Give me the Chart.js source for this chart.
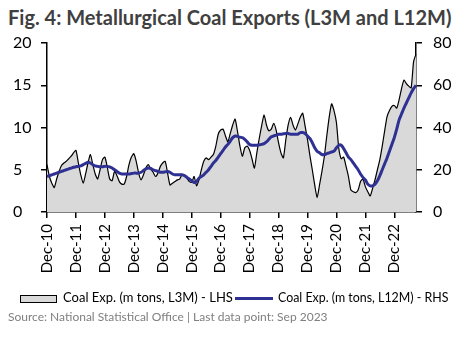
<!DOCTYPE html>
<html>
<head>
<meta charset="utf-8">
<script src="https://cdn.jsdelivr.net/npm/chart.js@4/dist/chart.umd.min.js"></script>
<style>
  html, body { margin: 0; padding: 0; background: #fff; }
  body { width: 474px; height: 337px; position: relative; overflow: hidden; font-family: Lato, "Open Sans", sans-serif; }
  #chart { position: absolute; left: 0; top: 0; }
  .title { position: absolute; left: 8px; top: 7px; font-size: 20px; font-weight: bold; color: #404040; line-height: 1; white-space: nowrap; }
  .legend { position: absolute; top: 291px; left: 20px; font-size: 13px; color: #000; line-height: 1; white-space: nowrap; }
  .legend span { position: absolute; top: 0; }
  .box { position: absolute; left: 0; top: 4px; width: 35px; height: 6px; background: #d9d9d9; border: 1.5px solid #000; }
  .line { position: absolute; left: 215px; top: 6px; width: 38px; height: 3px; background: #2E3192; }
  .source { position: absolute; left: 8px; top: 311px; font-size: 12px; color: #7f7f7f; line-height: 1; white-space: nowrap; }
</style>
</head>
<body>
<div class="title">Fig. 4: Metallurgical Coal Exports (L3M and L12M)</div>
<canvas id="chart" width="474" height="337"></canvas>
<div class="legend">
  <div class="box"></div><span style="left:43px">Coal Exp. (m tons, L3M) - LHS</span>
  <div class="line"></div><span style="left:258px; font-size:12.4px; top:0.5px">Coal Exp. (m tons, L12M) - RHS</span>
</div>
<div class="source">Source: National Statistical Office | Last data point: Sep 2023</div>
<script>
// Monthly series starting Dec-2010, last point Sep-2023
const startYear = 2010;
const startMonth = 11; // December (0-based)

// Exports over the last 3 months, m tons (left axis)
const l3m = [
  5.6,
  4.2, 3.4, 2.9, 3.9, 4.8, 5.5, 5.8, 6.0, 6.3, 6.6, 7.0, 7.3,
  5.8, 4.4, 3.4, 4.5, 5.8, 6.8, 5.6, 4.5, 3.9, 5.0, 6.2, 6.5,
  5.3, 3.9, 3.7, 4.8, 4.3, 3.6, 3.3, 3.3, 4.2, 5.6, 6.5, 6.9,
  6.0, 4.6, 3.8, 4.4, 5.2, 5.6, 5.1, 4.7, 4.2, 4.6, 5.4, 5.8,
  6.0, 4.6, 3.2, 3.4, 3.6, 3.8, 3.9, 4.4, 4.3, 4.0, 3.6, 3.5,
  4.2, 3.1, 3.8, 5.0, 6.0, 6.4, 6.2, 6.5, 6.8, 7.8, 9.2, 9.7,
  9.8, 9.0, 8.3, 9.3, 10.3, 11.0, 9.5, 7.8, 6.6, 7.6, 7.8, 7.3,
  6.3, 5.2, 7.0, 8.7, 10.2, 11.5, 10.3, 9.6, 9.8, 10.5, 9.7, 8.2,
  7.0, 6.4, 8.5, 10.3, 11.2, 10.3, 9.7, 10.4, 11.2, 11.7, 10.2, 8.6,
  6.7, 5.0, 3.2, 1.7, 3.2, 4.8, 6.6, 9.0, 11.2, 12.8, 12.0, 10.6,
  7.5, 6.3, 6.5, 5.4, 4.2, 2.6, 2.4, 2.3, 2.6, 3.6, 3.9, 3.0,
  2.4, 1.9, 2.8, 3.8, 5.0, 6.2, 7.8, 9.6, 11.3, 12.0, 12.5, 12.6,
  12.3, 13.3, 14.6, 15.6, 15.2, 14.9, 14.7, 17.8, 18.7
];

// Exports over the last 12 months, m tons (right axis)
const l12m = [
  16.8,
  17.2, 17.6, 18.0, 18.4, 18.8, 19.2, 19.6, 20.0, 20.4, 20.8, 21.2, 21.4,
  21.6, 21.8, 22.4, 23.0, 23.6, 23.2, 22.4, 21.8, 21.6, 21.4, 21.4, 21.6,
  21.6, 21.4, 20.8, 20.0, 19.2, 18.4, 18.0, 18.0, 18.0, 18.0, 18.2, 18.4,
  18.4, 18.4, 18.8, 19.6, 20.4, 20.8, 20.6, 20.0, 19.6, 19.2, 18.8, 18.8,
  19.0, 19.2, 18.8, 18.0, 17.6, 17.6, 17.6, 17.6, 17.2, 16.4, 15.6, 14.8,
  14.0, 14.4, 16.0, 16.8, 17.6, 18.8, 20.0, 21.6, 23.2, 24.4, 26.0, 27.6,
  29.2, 30.8, 32.0, 33.6, 35.2, 36.0, 35.8, 35.4, 35.2, 34.4, 33.2, 32.0,
  31.6, 31.6, 31.6, 31.8, 32.0, 32.4, 33.2, 34.4, 35.6, 36.0, 36.4, 36.8,
  36.8, 37.0, 37.2, 37.2, 36.8, 36.8, 36.8, 36.8, 37.6, 37.6, 37.2, 36.0,
  34.8, 32.8, 30.4, 28.8, 28.0, 27.2, 27.2, 27.6, 28.0, 28.4, 28.8, 30.4,
  31.6, 31.6, 30.0, 28.0, 26.0, 24.8, 23.2, 21.6, 20.0, 18.0, 16.4, 15.2,
  13.2, 12.4, 12.4, 13.2, 14.8, 17.2, 20.0, 22.8, 25.6, 28.8, 32.0, 35.2,
  39.2, 43.6, 46.4, 49.2, 51.6, 54.0, 56.4, 58.4, 60.0
];

const leftTicks = [0, 5, 10, 15, 20];
const rightTicks = [0, 20, 40, 60, 80];
const monthNames = ['Jan','Feb','Mar','Apr','May','Jun','Jul','Aug','Sep','Oct','Nov','Dec'];

const labels = l3m.map((_, i) => {
  const m = startMonth + i;
  const yy = (startYear + Math.floor(m / 12)) % 100;
  return monthNames[m % 12] + '-' + String(yy).padStart(2, '0');
});

const isYearTick = (lbl) => lbl && lbl.startsWith('Dec');

const tickFont = { family: 'Lato', size: 16 };

new Chart(document.getElementById('chart'), {
  type: 'line',
  data: {
    labels,
    datasets: [
      {
        label: 'Coal Exp. (m tons, L12M) - RHS',
        data: l12m,
        yAxisID: 'yR',
        borderColor: '#2E3192',
        borderWidth: 3,
        pointRadius: 0,
        tension: 0.3,
        fill: false,
        order: 1
      },
      {
        label: 'Coal Exp. (m tons, L3M) - LHS',
        data: l3m,
        yAxisID: 'yL',
        borderColor: '#000',
        borderWidth: 1.2,
        backgroundColor: '#d9d9d9',
        pointRadius: 0,
        tension: 0.2,
        fill: 'origin',
        order: 2
      }
    ]
  },
  options: {
    responsive: false,
    animation: false,
    layout: { padding: { left: 13, right: 18, top: 43, bottom: 65 } },
    plugins: { legend: { display: false }, tooltip: { enabled: false }, title: { display: false } },
    scales: {
      x: {
        type: 'category',
        offset: false,
        grid: {
          drawOnChartArea: false,
          drawTicks: true,
          tickLength: 6,
          lineWidth: 1.5,
          color: (ctx) => (ctx.tick && isYearTick(labels[ctx.tick.value]) ? '#000' : 'rgba(0,0,0,0)')
        },
        border: { display: true, color: '#000', width: 1.5 },
        ticks: {
          autoSkip: false,
          maxRotation: 90,
          minRotation: 90,
          padding: 6,
          color: '#000',
          font: { family: 'Lato', size: 15 },
          callback: function (value) {
            const lbl = this.getLabelForValue(value);
            return isYearTick(lbl) ? lbl : null;
          }
        },
        afterFit: (scale) => { scale.height = 60; }
      },
      yL: {
        position: 'left',
        min: 0,
        max: 20,
        afterBuildTicks: (scale) => { scale.ticks = leftTicks.map(v => ({ value: v })); },
        grid: { drawOnChartArea: false, drawTicks: true, tickLength: 6, lineWidth: 1.5, color: '#000' },
        border: { display: true, color: '#000', width: 1.5 },
        ticks: { color: '#000', font: tickFont, crossAlign: 'far', padding: 10 },
        afterFit: (scale) => { scale.width = 34; }
      },
      yR: {
        position: 'right',
        min: 0,
        max: 80,
        afterBuildTicks: (scale) => { scale.ticks = rightTicks.map(v => ({ value: v })); },
        grid: { drawOnChartArea: false, drawTicks: true, tickLength: 6, lineWidth: 1.5, color: '#000' },
        border: { display: true, color: '#000', width: 1.5 },
        ticks: { color: '#000', font: tickFont, crossAlign: 'near', padding: 11 },
        afterFit: (scale) => { scale.width = 40; }
      }
    }
  }
});
</script>
</body>
</html>
